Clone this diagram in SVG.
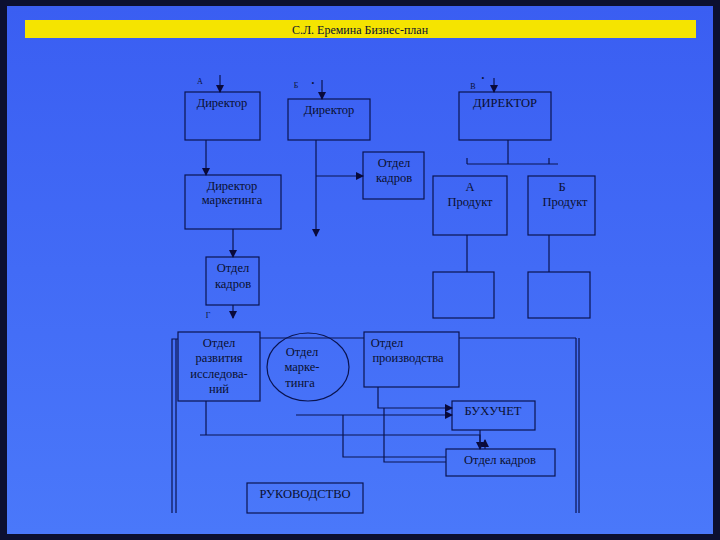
<svg xmlns="http://www.w3.org/2000/svg" width="720" height="540" viewBox="0 0 720 540">
<defs>
<linearGradient id="bg" x1="0" y1="0" x2="0" y2="1"><stop offset="0" stop-color="#3a5ef2"/><stop offset="1" stop-color="#4a78fa"/></linearGradient>
<marker id="a" markerWidth="8" markerHeight="8" refX="7" refY="4" orient="auto" markerUnits="userSpaceOnUse"><path d="M0,0L8,4L0,8z" fill="#0a0a3a"/></marker>
</defs>
<style>
rect.n{fill:none;stroke:#0a1450;stroke-width:1.2}
.c line,.c polyline{stroke:#0a1450;stroke-width:1.2;fill:none}
text{font-family:"Liberation Serif",serif;font-size:12.5px;fill:#0a1030;text-anchor:middle}
text.s{font-size:8px}
</style>
<rect width="720" height="540" fill="#0c1030"/>
<rect x="7" y="6" width="706" height="528" fill="url(#bg)"/>
<rect x="25" y="20" width="671" height="18" fill="#f5e400"/>
<text x="360" y="34" style="font-size:12px">С.Л. Еремина Бизнес-план</text>
<g id="dirA"><rect class="n" x="185" y="92" width="75" height="48"/><text x="222" y="107">Директор</text></g>
<g id="dirB"><rect class="n" x="288" y="99" width="82" height="41"/><text x="329" y="114">Директор</text></g>
<g id="dirV"><rect class="n" x="459" y="92" width="92" height="48"/><text x="505" y="107">ДИРЕКТОР</text></g>
<g id="dirMark"><rect class="n" x="185" y="175" width="96" height="54"/><text x="232" y="190">Директор</text><text x="232" y="204">маркетинга</text></g>
<g id="okTop"><rect class="n" x="363" y="152" width="61" height="47"/><text x="394" y="167">Отдел</text><text x="394" y="182">кадров</text></g>
<g id="prodA"><rect class="n" x="433" y="176" width="74" height="59"/><text x="470" y="191">А</text><text x="470" y="206">Продукт</text></g>
<g id="prodB"><rect class="n" x="528" y="176" width="67" height="59"/><text x="562" y="191">Б</text><text x="565" y="206">Продукт</text></g>
<g id="boxA2"><rect class="n" x="433" y="272" width="61" height="46"/></g>
<g id="boxB2"><rect class="n" x="528" y="272" width="62" height="46"/></g>
<g id="okMid"><rect class="n" x="206" y="257" width="53" height="48"/><text x="233" y="272">Отдел</text><text x="233" y="288">кадров</text></g>
<g id="razv"><rect class="n" x="178" y="332" width="82" height="69"/><text x="219" y="347">Отдел</text><text x="219" y="362">развития</text><text x="219" y="378">исследова-</text><text x="219" y="393">ний</text></g>
<g id="mark"><ellipse cx="308" cy="367" rx="41" ry="34" fill="none" stroke="#0a1450" stroke-width="1.2"/><text x="302" y="356">Отдел</text><text x="302" y="371">марке-</text><text x="300" y="387">тинга</text></g>
<g id="proiz"><rect class="n" x="364" y="332" width="95" height="55"/><text x="387" y="347">Отдел</text><text x="408" y="362">производства</text></g>
<g id="buh"><rect class="n" x="452" y="401" width="83" height="29"/><text x="493" y="415">БУХУЧЕТ</text></g>
<g id="okBot"><rect class="n" x="446" y="449" width="109" height="27"/><text x="500" y="464">Отдел кадров</text></g>
<g id="ruk"><rect class="n" x="247" y="483" width="116" height="30"/><text x="305" y="498">РУКОВОДСТВО</text></g>
<text class="s" x="200" y="84">А</text><text class="s" x="296" y="88">Б</text><text class="s" x="313" y="86">•</text>
<text class="s" x="473" y="89">В</text><text class="s" x="483" y="81">•</text><text class="s" x="208" y="318">Г</text>
<g class="c">
<line x1="220" y1="75" x2="220" y2="92" marker-end="url(#a)"/>
<line x1="322" y1="80" x2="322" y2="99" marker-end="url(#a)"/>
<line x1="494" y1="78" x2="494" y2="92" marker-end="url(#a)"/>
<line x1="206" y1="140" x2="206" y2="175" marker-end="url(#a)"/>
<line x1="316" y1="140" x2="316" y2="236" marker-end="url(#a)"/>
<line x1="316" y1="176" x2="363" y2="176" marker-end="url(#a)"/>
<line x1="508" y1="140" x2="508" y2="164"/>
<line x1="467" y1="164" x2="558" y2="164"/>
<line x1="467" y1="158" x2="467" y2="164"/><line x1="549" y1="158" x2="549" y2="164"/>
<line x1="467" y1="235" x2="467" y2="272"/><line x1="549" y1="235" x2="549" y2="272"/>
<line x1="233" y1="229" x2="233" y2="257" marker-end="url(#a)"/>
<line x1="233" y1="305" x2="233" y2="318" marker-end="url(#a)"/>
<polyline points="172,513 172,339 178,339"/><line x1="176" y1="339" x2="176" y2="513"/>
<line x1="260" y1="338" x2="364" y2="338"/><line x1="459" y1="338" x2="576" y2="338"/>
<line x1="576" y1="338" x2="576" y2="513"/><line x1="579" y1="338" x2="579" y2="513"/>
<polyline points="378,387 378,408 452,408" marker-end="url(#a)"/>
<line x1="296" y1="415" x2="452" y2="415" marker-end="url(#a)"/>
<polyline points="343,415 343,457 446,457"/>
<polyline points="384,408 384,462 446,462"/>
<polyline points="206,401 206,435"/>
<polyline points="200,435 480,435 480,449" marker-end="url(#a)"/>
<line x1="480" y1="430" x2="480" y2="449"/>
<line x1="485" y1="449" x2="485" y2="440" marker-end="url(#a)"/>
</g>
</svg>
